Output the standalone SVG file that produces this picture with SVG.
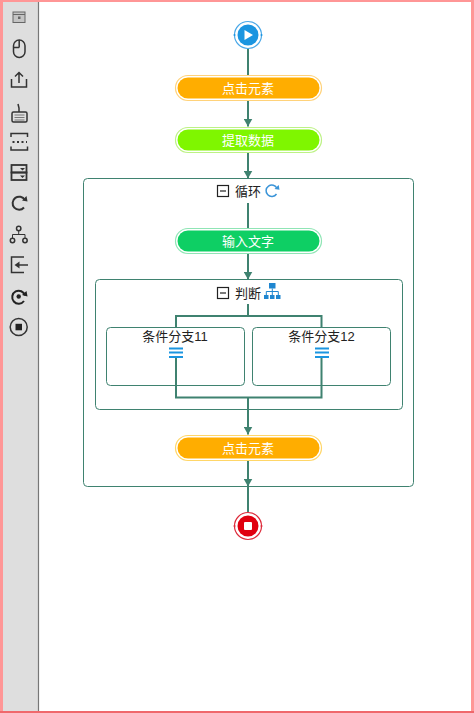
<svg xmlns="http://www.w3.org/2000/svg" width="474" height="713" viewBox="0 0 474 713">
<style>
text{font-family:"Liberation Sans","Noto Sans CJK SC",sans-serif}
.pill{font-size:13px;fill:#fff;text-anchor:middle}
.lab{font-size:13px;fill:#222}
.box{fill:none;stroke:#3f8270;stroke-width:1}
.c{fill:none;stroke:#3f8270;stroke-width:2}
.ic{fill:none;stroke:#333;stroke-width:1.5}
.fill{fill:#333}
.minus{fill:#fff;stroke:#222;stroke-width:1.2}
</style>
<defs>
<marker id="a" markerUnits="userSpaceOnUse" markerWidth="9" markerHeight="9" refX="8" refY="4.500" orient="auto"><path d="M0 0L8 4.500L0 9Z" fill="#3f8270"/></marker>
</defs>
<rect width="474" height="713" fill="#ff9696"/>
<rect y="711" width="474" height="2" fill="#f0686c"/>
<rect x="3" y="2" width="468" height="709" fill="#fff"/>
<g id="toolbar">
<rect x="3" y="2" width="36" height="709" fill="#dedede"/>
<path d="M38.500 2V711" stroke="#777" stroke-width="1.200"/>
<g id="tool-1"><rect x="13" y="12" width="12" height="10.500" fill="#c4c4c4" stroke="#666"/><path d="M13 14.500H25" stroke="#666"/><rect x="18" y="16.500" width="2.500" height="2.500" fill="#666"/></g>
<g id="tool-2"><rect x="13.500" y="40" width="11.500" height="17.500" rx="5.700" class="ic"/><path d="M19.200 40V47.500M13.500 47.500H19.200" class="ic"/></g>
<g id="tool-3"><path d="M11.500 79V87H26.500V79" class="ic"/><path d="M19 83V73M15 76.500L19 72.500L23 76.500" class="ic"/></g>
<g id="tool-4"><rect x="12" y="112" width="15" height="10" rx="1.500" class="ic"/><path d="M19 112V108L18 104" class="ic"/><path d="M14.500 115H24.500M14.500 117.500H24.500M14.500 120H24.500" stroke="#777"/></g>
<g id="tool-5"><path d="M11 137V133.500H27.500V137M11 146.500V150H27.500V146.500" class="ic"/><path d="M12.500 142H27" stroke="#333" stroke-width="1.800" stroke-dasharray="2 2.500"/></g>
<g id="tool-6"><rect x="11.500" y="165" width="15" height="7.500" class="ic" style="stroke-width:1.800"/><rect x="11.500" y="172.500" width="15" height="7.500" class="ic" style="stroke-width:1.800"/><path d="M20 168H25L22.500 170.500ZM20 175.500H25L22.500 178Z" class="fill"/></g>
<g id="tool-7"><path d="M24.800 200A6.500 6.500 0 1 0 24 207.500" class="ic" style="stroke-width:2"/><path d="M22 200.500L27.500 201.500L26.500 196Z" class="fill"/></g>
<g id="tool-8"><circle cx="18.700" cy="228.500" r="2.200" class="ic"/><circle cx="12.500" cy="240.500" r="2.200" class="ic"/><circle cx="25" cy="240.500" r="2.200" class="ic"/><path d="M18.700 231V234.500M12.500 238V234.500H25V238" stroke="#333" fill="none"/></g>
<g id="tool-9"><path d="M24 257H11.500V272.500H24" class="ic"/><path d="M28 265H18" class="ic"/><path d="M14.500 265L19.500 261.500V268.500Z" class="fill"/></g>
<g id="tool-10"><path d="M25 295.500A6.500 6.500 0 1 0 24 301" fill="none" stroke="#222" stroke-width="2"/><circle cx="18.700" cy="296.500" r="2.200" fill="#222"/><path d="M22 295L27.500 296.500L26.500 291Z" fill="#222"/></g>
<g id="tool-11"><circle cx="18.700" cy="327" r="8.500" class="ic"/><rect x="15.500" y="323.800" width="6.500" height="6.500" fill="#222"/></g>
</g>
<g id="connectors">
<path class="c" d="M248 48V75"/>
<path class="c" d="M248 101V126.500" marker-end="url(#a)"/>
<path class="c" d="M248 153V178.500" marker-end="url(#a)"/>
<path class="c" d="M248 203V229"/>
<path class="c" d="M248 254V279.500" marker-end="url(#a)"/>
<path class="c" d="M248 304V316M176 327V316H321.500V327"/>
<path class="c" d="M176 358V397.500H321.500V358"/>
<path class="c" d="M248 397.500V434.500" marker-end="url(#a)"/>
<path class="c" d="M248 461V486.500" marker-end="url(#a)"/>
<path class="c" d="M248 486V512"/>
</g>
<g id="start">
<circle cx="248" cy="35" r="13.500" fill="#fff" stroke="#4aa8e8" stroke-width="1.200"/>
<circle cx="234.500" cy="35" r="1" fill="#1b95e0"/><circle cx="261.500" cy="35" r="1" fill="#1b95e0"/>
<circle cx="248" cy="35" r="10.500" fill="#1b95e0"/>
<path d="M244.500 30L253 35L244.500 40Z" fill="#fff"/>
</g>
<g id="click-1">
<rect x="175.500" y="75.500" width="146" height="25" rx="12.500" fill="#fff" stroke="#ffd27a" stroke-width="1.200"/>
<rect x="177.500" y="77.500" width="142" height="21" rx="10.500" fill="#ffad00"/>
<text class="pill" x="248" y="92.500">点击元素</text>
</g>
<g id="extract">
<rect x="175.500" y="127.500" width="146" height="25" rx="12.500" fill="#fff" stroke="#bdf285" stroke-width="1.200"/>
<rect x="177.500" y="129.500" width="142" height="21" rx="10.500" fill="#7ff600"/>
<text class="pill" x="248" y="144.500">提取数据</text>
</g>
<g id="loop">
<rect class="box" x="83.500" y="178.500" width="330" height="308" rx="4"/>
<rect class="minus" x="217.500" y="185.500" width="11" height="11"/>
<path d="M220 191H226" stroke="#222" stroke-width="1.200"/>
<text class="lab" x="235" y="195.500">循环</text>
<path d="M277 188.500A5.700 5.700 0 1 0 276.500 194" fill="none" stroke="#3a94d8" stroke-width="1.500"/>
<path d="M274.500 189L279.500 189.800L278.700 185Z" fill="#3a94d8"/>
</g>
<g id="input">
<rect x="175.500" y="228.500" width="146" height="25" rx="12.500" fill="#fff" stroke="#8fe5b5" stroke-width="1.200"/>
<rect x="177.500" y="230.500" width="142" height="21" rx="10.500" fill="#0ecf64"/>
<text class="pill" x="248" y="245.500">输入文字</text>
</g>
<g id="judge">
<rect class="box" x="95.500" y="279.500" width="307" height="130" rx="4"/>
<rect class="minus" x="217.500" y="287.500" width="11" height="11"/>
<path d="M220 293H226" stroke="#222" stroke-width="1.200"/>
<text class="lab" x="235" y="297.500">判断</text>
<g fill="#1f86d0"><rect x="269" y="283" width="6.500" height="5.500"/><rect x="264" y="295" width="4.500" height="4"/><rect x="270" y="295" width="4.500" height="4"/><rect x="276" y="295" width="4.500" height="4"/></g>
<path d="M272.300 288.500V295M266.300 295V291.500H278.300V295" stroke="#1f86d0" stroke-width="1" fill="none"/>
</g>
<g id="branch-11">
<rect class="box" x="106.500" y="327.500" width="138" height="58" rx="4"/>
<text class="lab" x="175" y="341" text-anchor="middle">条件分支11</text>
<path d="M169 348.500H183M169 352.500H183M169 357H183" stroke="#1b95e0" stroke-width="2.200"/>
</g>
<g id="branch-12">
<rect class="box" x="252.500" y="327.500" width="138" height="58" rx="4"/>
<text class="lab" x="321.500" y="341" text-anchor="middle">条件分支12</text>
<path d="M315 348.500H329M315 352.500H329M315 357H329" stroke="#1b95e0" stroke-width="2.200"/>
</g>
<g id="click-2">
<rect x="175.500" y="435.500" width="146" height="25" rx="12.500" fill="#fff" stroke="#ffd668" stroke-width="1.200"/>
<rect x="177.500" y="437.500" width="142" height="21" rx="10.500" fill="#ffad00"/>
<text class="pill" x="248" y="452.500">点击元素</text>
</g>
<g id="end">
<circle cx="248" cy="526" r="13.500" fill="#fff" stroke="#dd2a3a" stroke-width="1.200"/>
<circle cx="234.500" cy="526" r="1" fill="#dd2a3a"/><circle cx="261.500" cy="526" r="1" fill="#dd2a3a"/>
<circle cx="248" cy="526" r="10.500" fill="#e0000f"/>
<rect x="244" y="522" width="8" height="8" rx="1" fill="#fff"/>
</g>
</svg>
